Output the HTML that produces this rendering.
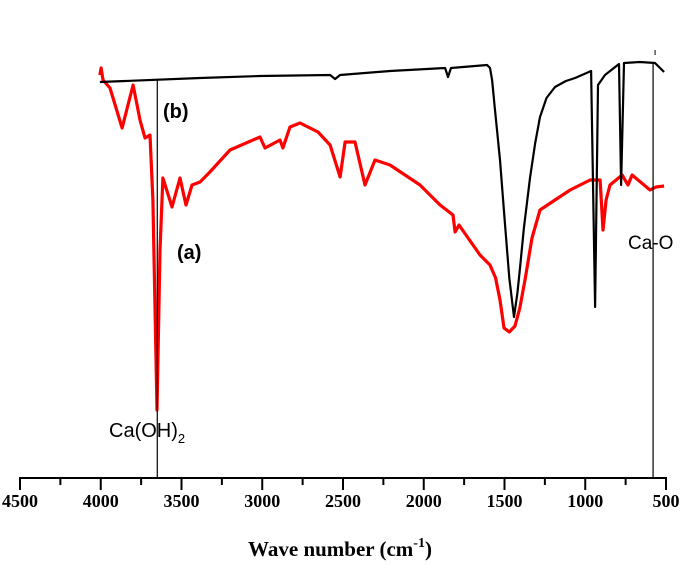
<!DOCTYPE html>
<html><head><meta charset="utf-8"><style>
html,body{margin:0;padding:0;background:#fff}
svg{display:block}
</style></head><body>
<svg id="chart" width="685" height="567" viewBox="0 0 685 567" xmlns="http://www.w3.org/2000/svg">
<g id="axis"></g>
<g id="plot"></g>
<text x="109" y="437" font-family="Liberation Sans, sans-serif" font-size="20">Ca(OH)<tspan font-size="13" dy="6">2</tspan></text>
<text x="628" y="249" font-family="Liberation Sans, sans-serif" font-size="19">Ca-O</text>
<text x="163" y="118" font-family="Liberation Sans, sans-serif" font-weight="bold" font-size="20">(b)</text>
<text x="177" y="259" font-family="Liberation Sans, sans-serif" font-weight="bold" font-size="20">(a)</text>
<text x="340" y="556" text-anchor="middle" font-family="Liberation Serif, serif" font-weight="bold" font-size="21">Wave number (cm<tspan font-size="14" dy="-9">-1</tspan><tspan dy="9">)</tspan></text>
</svg>
<script>
const xTicks = [4500,4000,3500,3000,2500,2000,1500,1000,500];
const waveB = [4005,3385,3014,2580,2549,2518,2209,1868,1850,1831,1608,1590,1577,1560,1528,1500,1470,1441,1420,1404,1380,1342,1310,1280,1240,1187,1120,1063,964,939,921,878,791,778,760,661,568,512];
const valB  = [396,400,402,403,399,403,407,410,401,410,413,410,398,370,318,260,200,161,185,210,250,300,335,361,380,391,397,400,407,171,393,403,414,293,415,416,415,406];
const waveA = [4005,3998,3986,3943,3868,3800,3757,3726,3695,3677,3652,3633,3615,3559,3509,3472,3435,3385,3324,3200,3014,2983,2890,2872,2828,2766,2655,2580,2518,2487,2426,2364,2302,2209,2023,1899,1819,1806,1782,1652,1590,1555,1528,1503,1470,1435,1405,1373,1330,1280,1187,1094,970,908,890,871,847,772,735,710,599,562,512];
const valA  = [403,410,398,390,350,393,358,340,343,278,68,228,300,271,300,273,293,296,306,328,341,330,338,330,351,355,346,333,301,336,336,293,318,313,293,273,263,246,253,223,213,200,178,150,146,152,170,198,240,268,278,288,298,298,248,278,293,303,293,303,288,291,292];
const markers = [3650,580];

const NS='http://www.w3.org/2000/svg';
function xS(w){return 20+(4500-w)*0.1615;}
function yS(v){return 478-v;}
const axis=document.getElementById('axis');
const plot=document.getElementById('plot');
function mk(tag,attrs,parent){const e=document.createElementNS(NS,tag);for(const k in attrs)e.setAttribute(k,attrs[k]);parent.appendChild(e);return e;}

const base=mk('line',{x1:xS(4500)-1,x2:xS(500)+1,y1:478,y2:478,stroke:'#000','stroke-width':2},axis);


xTicks.forEach((t,i)=>{
  const tk=mk('line',{x1:xS(t),x2:xS(t),y1:478,y2:490,stroke:'#000','stroke-width':2},axis);
  
  
  const lb=mk('text',{x:xS(t),y:507,'text-anchor':'middle','font-family':'Liberation Serif, serif','font-weight':'bold','font-size':18},axis);
  lb.textContent=t;
  
  
  if(i<xTicks.length-1){
    const m=t-250;
    const mt=mk('line',{x1:xS(m),x2:xS(m),y1:478,y2:485,stroke:'#000','stroke-width':2},axis);
    
    
  }
});
function path(ws,vs,color,w,name){
  const d=ws.map((x,i)=>(i?'L':'M')+xS(x).toFixed(1)+' '+yS(vs[i]).toFixed(1)).join(' ');
  const p=mk('path',{d:d,fill:'none',stroke:color,'stroke-width':w,'stroke-linejoin':'round'},plot);
  
  
}
path(waveA,valA,'#ff0000',3.2,'series-a-line');
path(waveB,valB,'#000000',2.2,'series-b-line');
const ml=mk('line',{x1:xS(markers[0]),x2:xS(markers[0]),y1:80,y2:478,stroke:'#000','stroke-width':1.2},plot);


const ml2=mk('line',{x1:xS(markers[1]),x2:xS(markers[1]),y1:62,y2:478,stroke:'#000','stroke-width':1.2},plot);


const ml3=mk('line',{x1:xS(markers[1])+2,x2:xS(markers[1])+2,y1:50,y2:55,stroke:'#000','stroke-width':1},plot);


</script>
</body></html>
